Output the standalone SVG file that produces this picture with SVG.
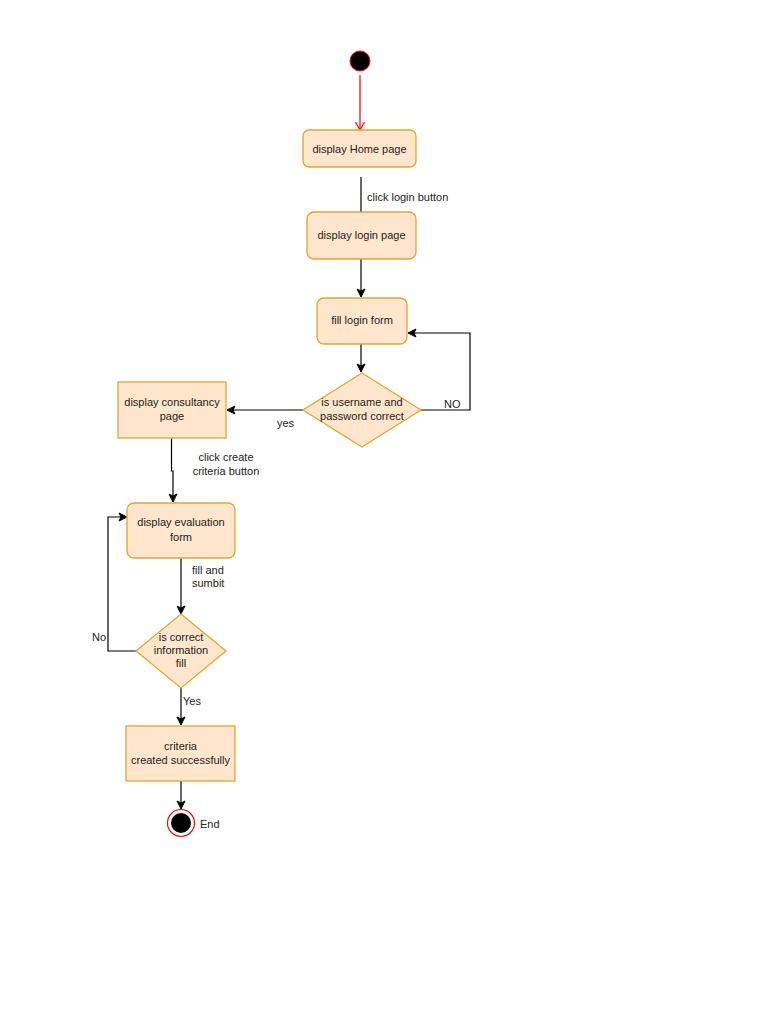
<svg xmlns="http://www.w3.org/2000/svg" width="768" height="1024" viewBox="0 0 768 1024">
<defs>
<style>
.n{fill:#ffe6cc;stroke:#e0a633;stroke-width:1.3}
.t{font-family:"Liberation Sans",Arial,sans-serif;font-size:11px;fill:#222;text-anchor:middle}
.l{font-family:"Liberation Sans",Arial,sans-serif;font-size:11px;fill:#222}
.e{fill:none;stroke:#000;stroke-width:1.2}
</style>
<marker id="a" markerWidth="10" markerHeight="10" refX="9" refY="5" orient="auto" markerUnits="userSpaceOnUse">
<path d="M1,1 L9,5 L1,9 L3,5 Z" fill="#000" stroke="#000" stroke-width="1"/>
</marker>
<marker id="ar" markerWidth="12" markerHeight="12" refX="10" refY="6" orient="auto" markerUnits="userSpaceOnUse">
<path d="M2,1.5 L10,6 L2,10.5" fill="none" stroke="#ff0000" stroke-width="1.2"/>
</marker>
</defs>
<rect width="768" height="1024" fill="#fff"/>
<g id="connectors">
<line x1="360" y1="75" x2="360" y2="130" stroke="#ff0000" stroke-width="1.2" marker-end="url(#ar)"/>
<line class="e" x1="361" y1="177" x2="361" y2="212"/>
<line class="e" x1="361" y1="259" x2="361" y2="297" marker-end="url(#a)"/>
<line class="e" x1="361" y1="344" x2="361" y2="372" marker-end="url(#a)"/>
<polyline class="e" points="421,410 470,410 470,333 408,333" marker-end="url(#a)"/>
<line class="e" x1="303" y1="410" x2="227" y2="410" marker-end="url(#a)"/>
<polyline class="e" points="171.5,438 171.5,471 173,471 173,502" marker-end="url(#a)"/>
<line class="e" x1="181" y1="558" x2="181" y2="614" marker-end="url(#a)"/>
<polyline class="e" points="136,651 108,651 108,517 127,517" marker-end="url(#a)"/>
<line class="e" x1="181" y1="688" x2="181" y2="725" marker-end="url(#a)"/>
<line class="e" x1="181" y1="781" x2="181" y2="809" marker-end="url(#a)"/>
<text class="l" x="367" y="201">click login button</text>
<text class="l" x="444" y="408">NO</text>
<text class="l" x="277" y="427">yes</text>
<text class="t" x="226" y="461">click create</text>
<text class="t" x="226" y="475">criteria button</text>
<text class="l" x="192" y="574">fill and</text>
<text class="l" x="192" y="587">sumbit</text>
<text class="l" x="92" y="641">No</text>
<text class="l" x="183" y="705">Yes</text>
</g>
<g id="start">
<circle cx="360" cy="61" r="10" fill="#000" stroke="#ff0000" stroke-width="1"/>
</g>
<g id="home">
<rect class="n" x="303" y="130" width="113" height="37" rx="6"/>
<text class="t" x="359.5" y="152.5">display Home page</text>
</g>
<g id="login">
<rect class="n" x="307" y="212" width="109" height="47" rx="7"/>
<text class="t" x="361.5" y="239">display login page</text>
</g>
<g id="fillform">
<rect class="n" x="317" y="298" width="90" height="46" rx="7"/>
<text class="t" x="362" y="324">fill login form</text>
</g>
<g id="check1">
<polygon class="n" points="362,373 421,410 362,447 303,410"/>
<text class="t" x="362" y="406">is username and</text>
<text class="t" x="362" y="420">password correct</text>
</g>
<g id="consult">
<rect class="n" x="118" y="382" width="108" height="56"/>
<text class="t" x="172" y="406">display consultancy</text>
<text class="t" x="172" y="420">page</text>
</g>
<g id="evalform">
<rect class="n" x="127" y="503" width="108" height="55" rx="7"/>
<text class="t" x="181" y="526">display evaluation</text>
<text class="t" x="181" y="541">form</text>
</g>
<g id="check2">
<polygon class="n" points="181,614 226,651 181,688 136,651"/>
<text class="t" x="181" y="641">is correct</text>
<text class="t" x="181" y="654">information</text>
<text class="t" x="181" y="667">fill</text>
</g>
<g id="created">
<rect class="n" x="126" y="726" width="109" height="55"/>
<text class="t" x="180.5" y="750">criteria</text>
<text class="t" x="180.5" y="764">created successfully</text>
</g>
<g id="end">
<circle cx="181" cy="823" r="13.5" fill="#fff" stroke="#ff0000" stroke-width="1.2"/>
<circle cx="181" cy="823" r="10" fill="#000"/>
<text class="l" x="200" y="828">End</text>
</g>
</svg>
